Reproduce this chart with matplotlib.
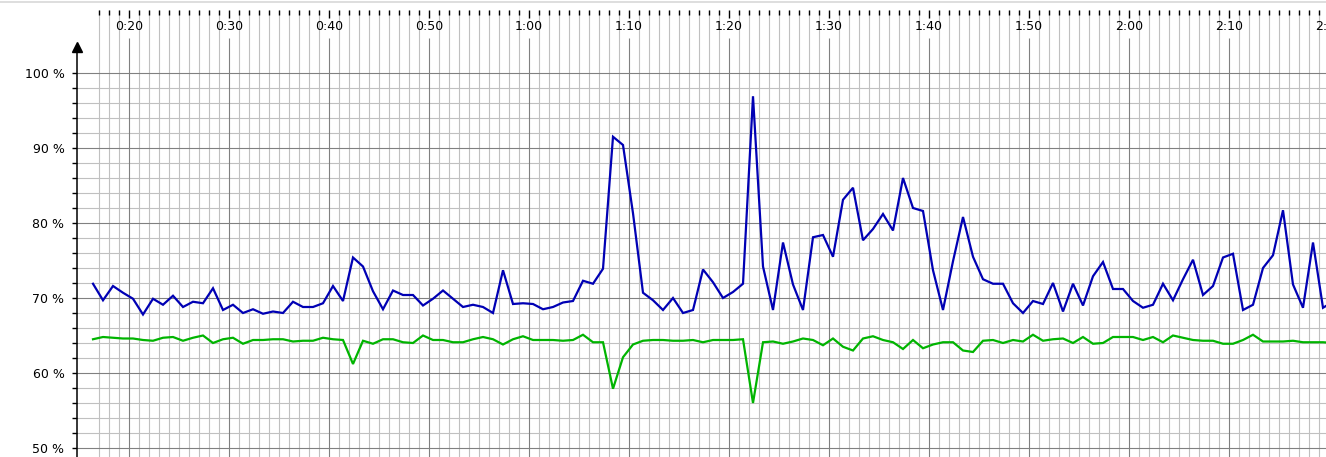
import numpy as np
import matplotlib
matplotlib.use("Agg")
import matplotlib.pyplot as plt
import matplotlib.transforms as mtransforms
from matplotlib.lines import Line2D

# ---- data (one sample per minute) ----
start_min = 16.4
step_min = 1.0
blue = [71.9, 69.7, 71.6, 70.7, 69.9, 67.8, 69.9, 69.1, 70.3, 68.8,
        69.5, 69.3, 71.3, 68.4, 69.1, 68.0, 68.5, 67.9, 68.2, 68.0,
        69.5, 68.8, 68.8, 69.3, 71.6, 69.6, 75.4, 74.2, 70.9, 68.5,
        71.0, 70.4, 70.4, 69.0, 69.9, 71.0, 69.9, 68.8, 69.1, 68.8,
        68.0, 73.7, 69.2, 69.3, 69.2, 68.5, 68.8, 69.4, 69.6, 72.3,
        71.9, 73.9, 91.5, 90.4, 81.3, 70.7, 69.7, 68.4, 70.0, 68.0,
        68.4, 73.8, 72.1, 70.0, 70.8, 71.9, 96.9, 74.2, 68.4, 77.4,
        71.8, 68.4, 78.1, 78.4, 75.5, 83.1, 84.7, 77.7, 79.2, 81.2,
        79.0, 86.0, 82.0, 81.6, 73.7, 68.4, 74.9, 80.8, 75.5, 72.5,
        71.9, 71.9, 69.3, 68.0, 69.6, 69.2, 72.0, 68.2, 71.9, 69.0,
        72.9, 74.8, 71.2, 71.2, 69.6, 68.7, 69.1, 71.9, 69.7, 72.5,
        75.1, 70.4, 71.6, 75.4, 75.9, 68.4, 69.1, 74.0, 75.7, 81.7,
        71.8, 68.7, 77.4, 68.7, 69.5]
green = [64.5, 64.8, 64.7, 64.6, 64.6, 64.4, 64.3, 64.7, 64.8, 64.3,
         64.7, 65.0, 64.0, 64.5, 64.7, 63.9, 64.4, 64.4, 64.5, 64.5,
         64.2, 64.3, 64.3, 64.7, 64.5, 64.4, 61.2, 64.3, 63.9, 64.5,
         64.5, 64.1, 64.0, 65.0, 64.4, 64.4, 64.1, 64.1, 64.5, 64.8,
         64.5, 63.8, 64.5, 64.9, 64.4, 64.4, 64.4, 64.3, 64.4, 65.1,
         64.1, 64.1, 57.9, 62.1, 63.8, 64.3, 64.4, 64.4, 64.3, 64.3,
         64.4, 64.1, 64.4, 64.4, 64.4, 64.5, 56.0, 64.1, 64.2, 63.9,
         64.2, 64.6, 64.4, 63.7, 64.6, 63.5, 63.0, 64.6, 64.9, 64.4,
         64.1, 63.2, 64.4, 63.3, 63.8, 64.1, 64.1, 63.0, 62.8, 64.3,
         64.4, 64.0, 64.4, 64.2, 65.1, 64.3, 64.5, 64.6, 64.0, 64.8,
         63.9, 64.0, 64.8, 64.8, 64.8, 64.4, 64.8, 64.1, 65.0, 64.7,
         64.4, 64.3, 64.3, 63.9, 63.9, 64.4, 65.1, 64.2, 64.2, 64.2,
         64.3, 64.1, 64.1, 64.1, 64.0]
x_major = [20, 30, 40, 50, 60, 70, 80, 90, 100, 110, 120, 130, 140]
x_labels = ["0:20", "0:30", "0:40", "0:50", "1:00", "1:10", "1:20",
            "1:30", "1:40", "1:50", "2:00", "2:10", "2:20"]
y_major = [50, 60, 70, 80, 90, 100]
y_labels = ["50 %", "60 %", "70 %", "80 %", "90 %", "100 %"]

W, H = 1326, 457
fig = plt.figure(figsize=(W / 100, H / 100), dpi=100)
fig.patch.set_facecolor("white")
ax = fig.add_axes([77 / W, 0, (W - 77) / W, (H - 10) / H])
xmin, xmax = 14.8, 139.7
ymin, ymax = 48.8, 108.4
ax.set_xlim(xmin, xmax)
ax.set_ylim(ymin, ymax)
for s in ax.spines.values():
    s.set_visible(False)

light = "#c0c0c0"
dark = "#808080"
minor_x = [m for m in range(17, 140) if m % 10 != 0]
ax.vlines(minor_x, ymin, ymax, colors=light, lw=0.8, zorder=1)
minor_y = [v for v in range(52, 100, 2) if v % 10 != 0]
ax.hlines(minor_y, xmin, xmax, colors=light, lw=0.8, zorder=1)
ax.hlines(y_major, xmin, xmax, colors=dark, lw=0.8, zorder=2)
major_in = [m for m in x_major if xmin <= m <= xmax]
ax.vlines(major_in, ymin, 104.67, colors=dark, lw=0.8, zorder=2)

# data
t = start_min + step_min * np.arange(len(blue))
ax.plot(t, blue, color="#0000b4", lw=1.6, zorder=5, solid_joinstyle="miter")
ax.plot(t, green, color="#00b400", lw=1.6, zorder=5, solid_joinstyle="miter")

# top ticks
ax.xaxis.tick_top()
ax.set_xticks(major_in)
ax.set_xticks(minor_x, minor=True)
ax.tick_params(axis="x", which="major", direction="in", length=6, width=1,
               color="black", labeltop=False, top=True, bottom=False)
ax.tick_params(axis="x", which="minor", direction="in", length=3.7, width=1,
               color="black", top=True, bottom=False)
trans = mtransforms.blended_transform_factory(ax.transData, ax.transAxes)
for m, lab in zip(x_major, x_labels):
    ax.text(m, (H - 27) / (H - 10), lab, transform=trans, ha="center",
            va="center", fontsize=9, family="DejaVu Sans", clip_on=False)

# y axis
ax.set_yticks(y_major, y_labels)
ax.set_yticks(minor_y, minor=True)
ax.tick_params(axis="y", which="both", direction="out", length=3.8, width=1,
               color="black", pad=5.2, labelsize=9)
ax.plot([xmin, xmin], [ymin, 103.1], color="black", lw=1.1, clip_on=False, zorder=6)
ax.plot([xmin], [103.45], marker="^", ms=7, color="black", clip_on=False, zorder=6)

fig.add_artist(Line2D([0, 1], [1 - 1.5 / H, 1 - 1.5 / H], color="#d8d8d8", lw=1.2,
                      transform=fig.transFigure))

fig.savefig("out.png", dpi=100)
